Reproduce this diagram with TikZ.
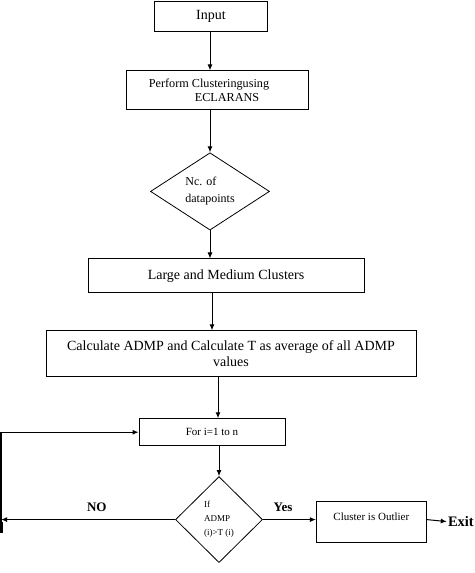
\documentclass[tikz,border=0pt]{standalone}
\usepackage{fontspec}
\setmainfont{Liberation Serif}
\usetikzlibrary{arrows.meta,positioning,shapes.geometric}

\begin{document}
\begin{tikzpicture}[
				node distance=30pt,
				arrow/.style={line width=1pt, -{Latex[length=6pt,width=5pt]}},
				block/.style={draw, line width=0.9pt, inner sep=2pt, align=center, font=\fontsize{14}{16}\selectfont},
				decision/.style={draw, diamond, line width=0.8pt, inner sep=0pt, align=left},
				tag/.style={font=\bfseries\fontsize{13}{15}\selectfont},
			]
				\useasboundingbox (0,0) rectangle (474pt,-573pt);

				\node[block, minimum width=113pt, minimum height=30pt] (input) at (211pt,-16pt) {Input};
				\node[block, below=39pt of input, xshift=6pt, minimum width=182pt, minimum height=39pt,
					font=\fontsize{12.2}{14}\selectfont] (perform) {Perform Clusteringusing\hspace*{16pt}\\\hspace*{20pt}ECLARANS};
				\node[decision, below=42pt of perform, xshift=-7pt, minimum width=119pt, minimum height=73pt,
					font=\fontsize{12}{17}\selectfont] (points) {Nc. of\\datapoints};
				\node[block, below=28pt of points, xshift=16pt, minimum width=276pt, minimum height=34pt] (clusters) {Large and Medium Clusters};
				\node[block, below=37pt of clusters, xshift=5pt, minimum width=370pt, minimum height=46pt] (admp)
					{Calculate ADMP and Calculate T as average of all ADMP\\values};
				\node[block, below=41pt of admp, xshift=-19pt, minimum width=146pt, minimum height=27pt,
					font=\fontsize{11}{13}\selectfont] (loop) {For i=1 to n};
				\node[decision, below=30pt of loop, xshift=7pt, minimum width=87pt, minimum height=86pt,
					font=\fontsize{9}{14}\selectfont] (test) {If\\ADMP\\(i)>T (i)};
				\node[block, right=53pt of test, yshift=-2pt, minimum width=110pt, minimum height=41pt, text depth=9pt,
					font=\fontsize{11}{13}\selectfont] (outlier) {Cluster is Outlier};
				\node[tag, right=20pt of outlier, inner sep=1pt, font=\bfseries\fontsize{14.5}{16}\selectfont] (exit) {Exit};
				\coordinate[left=174pt of test.west] (back);

				\draw[arrow] (input.south -| points) -- (perform.north -| points);
				\draw[arrow] (perform.south -| points) -- (points.north);
				\draw[arrow] (points.south) -- (points.south |- clusters.north);
				\draw[arrow] ([xshift=-14pt]clusters.south) -- ([xshift=-14pt]clusters.south |- admp.north);
				\draw[arrow] ([xshift=-13pt]admp.south) -- ([xshift=-13pt]admp.south |- loop.north);
				\draw[arrow] (loop.south -| test) -- (test.north);

				\draw[arrow] (test.west) -- node[tag, pos=0.45, above=4pt] {NO} (back);
				\draw[line width=1.3pt] (back |- loop.west) -- ([yshift=-12pt]back);
				\draw[line width=3pt] ([yshift=-2pt]back) -- ([yshift=-13pt]back);
				\draw[arrow] (back |- loop.west) -- (loop.west);

				\draw[arrow] (test.east) -- node[tag, pos=0.38, above=4pt] {Yes} (test.east -| outlier.west);
				\draw[arrow] (test.east -| outlier.east) -- (exit.west);
			\end{tikzpicture}
\end{document}
